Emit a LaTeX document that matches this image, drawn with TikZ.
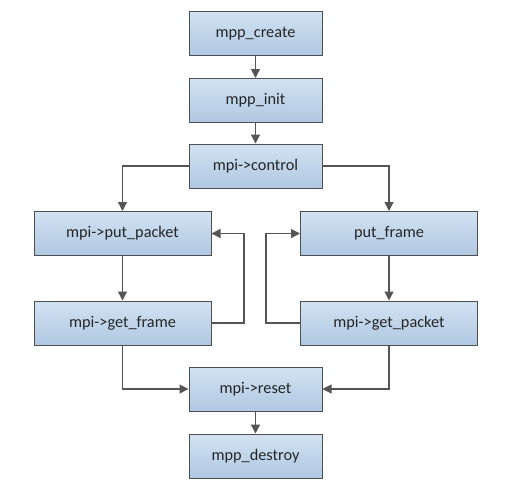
\documentclass[tikz,border=0pt]{standalone}
\usepackage{fontspec}
\setmainfont{Carlito}
\usetikzlibrary{arrows.meta}
\definecolor{boxtop}{HTML}{D2E2F2}
\definecolor{boxbot}{HTML}{AFC8E2}
\definecolor{boxline}{HTML}{4F4F4F}
\definecolor{conn}{HTML}{555555}
\tikzset{
  box/.style={draw=boxline, line width=1pt, top color=boxtop, bottom color=boxbot, minimum height=44pt, inner sep=0pt, font=\fontsize{16.3}{18}\selectfont, text=black!85},
  narrow/.style={box, minimum width=133pt},
  wide/.style={box, minimum width=177pt},
  link/.style={draw=conn, line width=1.2pt, -{Triangle[length=9pt,width=9pt]}},
}
\begin{document}
\begin{tikzpicture}[x=1pt,y=-1pt]
\useasboundingbox[fill=white] (0,0) rectangle (513,488);
\node[narrow] (create) at (255.5,33.5) {mpp\_create};
\node[narrow] (init) at (255.5,100.5) {mpp\_init};
\node[narrow] (control) at (255.5,166) {mpi->control};
\node[wide] (putpkt) at (122.5,233.5) {mpi->put\_packet};
\node[wide] (getfrm) at (122.5,323) {mpi->get\_frame};
\node[wide] (putfrm) at (389,233.5) {put\_frame};
\node[wide] (getpkt) at (389,323) {mpi->get\_packet};
\node[narrow] (reset) at (255.5,389) {mpi->reset};
\node[narrow] (destroy) at (255.5,456) {mpp\_destroy};
\coordinate (lloop) at (244,0);
\coordinate (rloop) at (266,0);
\draw[link] (create) -- (init);
\draw[link] (init) -- (control);
\draw[link] (control.west) -| (putpkt.north);
\draw[link] (control.east) -| (putfrm.north);
\draw[link] (putpkt) -- (getfrm);
\draw[link] (putfrm) -- (getpkt);
\draw[link] (getfrm.east) -| (lloop |- putpkt.east) -- (putpkt.east);
\draw[link] (getpkt.west) -| (rloop |- putfrm.west) -- (putfrm.west);
\draw[link] (getfrm.south) |- (reset.west);
\draw[link] (getpkt.south) |- (reset.east);
\draw[link] (reset) -- (destroy);
\end{tikzpicture}
\end{document}
